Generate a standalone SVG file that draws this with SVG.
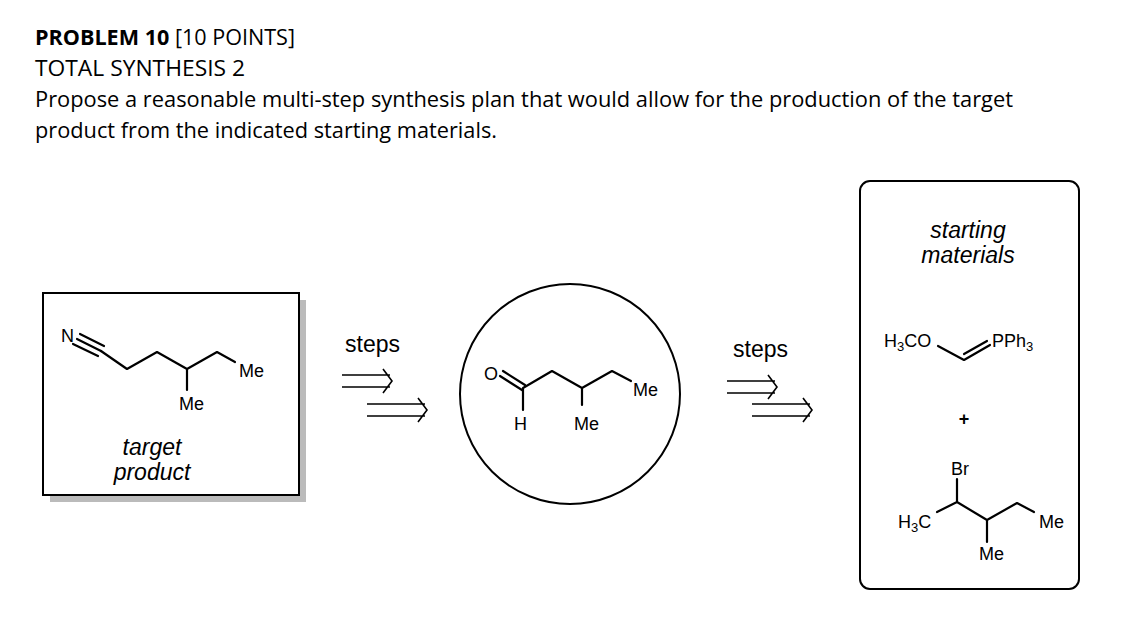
<svg xmlns="http://www.w3.org/2000/svg" width="1121" height="642" viewBox="0 0 1121 642">
<style>
.h{font-family:"Open Sans","Liberation Sans",sans-serif;font-size:21px;fill:#000}
.a{font-family:"Liberation Sans",Arial,sans-serif;font-size:18px;fill:#000}
.s{font-family:"Liberation Sans",Arial,sans-serif;font-size:13px}
.l{font-family:"Liberation Sans",Arial,sans-serif;font-size:23px;fill:#000}
.i{font-family:"Liberation Sans",Arial,sans-serif;font-size:23px;font-style:italic;fill:#000}
.b{fill:none;stroke:#000;stroke-width:2.2;stroke-linecap:round;stroke-linejoin:round}
.r{fill:none;stroke:#000;stroke-width:1.6}
</style>
<rect width="1121" height="642" fill="#fff"/>
<g id="header">
<text class="h" x="35" y="45" textLength="260" lengthAdjust="spacingAndGlyphs"><tspan font-weight="bold">PROBLEM 10</tspan> [10 POINTS]</text>
<text class="h" x="35" y="76" textLength="210" lengthAdjust="spacingAndGlyphs">TOTAL SYNTHESIS 2</text>
<text class="h" x="35" y="107" textLength="978" lengthAdjust="spacingAndGlyphs">Propose a reasonable multi-step synthesis plan that would allow for the production of the target</text>
<text class="h" x="35" y="138" textLength="462" lengthAdjust="spacingAndGlyphs">product from the indicated starting materials.</text>
</g>
<g id="target">
<rect x="50" y="300" width="256" height="202" fill="#bbb"/>
<rect x="43" y="293" width="256" height="202" fill="#fff" stroke="#000" stroke-width="2"/>
<text class="a" x="61" y="342">N</text>
<path class="b" d="M73 344L98 356M77 339L101 351M80 334L104 346"/>
<path class="b" d="M101 351L127 369L157 352L187 369L217 352L235 362M187 369V390"/>
<text class="a" x="239" y="377">Me</text>
<text class="a" x="179" y="410">Me</text>
<text class="i" x="152" y="455" text-anchor="middle">target</text>
<text class="i" x="152" y="480" text-anchor="middle">product</text>
</g>
<g id="connectors">
<text class="l" x="345" y="352">steps</text>
<path class="r" d="M342 375H390M342 387H390M383 369L392 381L383 393"/>
<path class="r" d="M367 404H425M367 416H425M418 398L427 410L418 422"/>
<text class="l" x="733" y="357">steps</text>
<path class="r" d="M727 381H775M727 393H775M768 375L777 387L768 399"/>
<path class="r" d="M752 404H810M752 416H810M803 398L812 410L803 422"/>
</g>
<g id="intermediate">
<circle cx="570" cy="394" r="110" fill="none" stroke="#000" stroke-width="2"/>
<text class="a" x="484" y="380">O</text>
<path class="b" d="M500 376L522 390M503 371L525 385"/>
<path class="b" d="M523 388L552 371L582 388L612 371L631 381M523 388V410M582 388V405"/>
<text class="a" x="514" y="430">H</text>
<text class="a" x="633" y="396">Me</text>
<text class="a" x="574" y="430">Me</text>
</g>
<g id="starting">
<rect x="860" y="181" width="219" height="408" rx="10" fill="#fff" stroke="#000" stroke-width="2"/>
<text class="i" x="968" y="238" text-anchor="middle">starting</text>
<text class="i" x="968" y="263" text-anchor="middle">materials</text>
<text class="a" x="884" y="347">H<tspan class="s" dy="4">3</tspan><tspan dy="-4">CO</tspan></text>
<path class="b" d="M938 346L964 360L990 345M964 354L987 341"/>
<text class="a" x="992" y="347">PPh<tspan class="s" dy="4">3</tspan></text>
<text class="a" x="964" y="425" text-anchor="middle" font-weight="bold" font-size="20">+</text>
<text class="a" x="951" y="475">Br</text>
<path class="b" d="M937 512L957 502L987 520L1017 503L1034 512M957 502V479M987 520V542"/>
<text class="a" x="898" y="528">H<tspan class="s" dy="4">3</tspan><tspan dy="-4">C</tspan></text>
<text class="a" x="1039" y="528">Me</text>
<text class="a" x="979" y="560">Me</text>
</g>
</svg>
